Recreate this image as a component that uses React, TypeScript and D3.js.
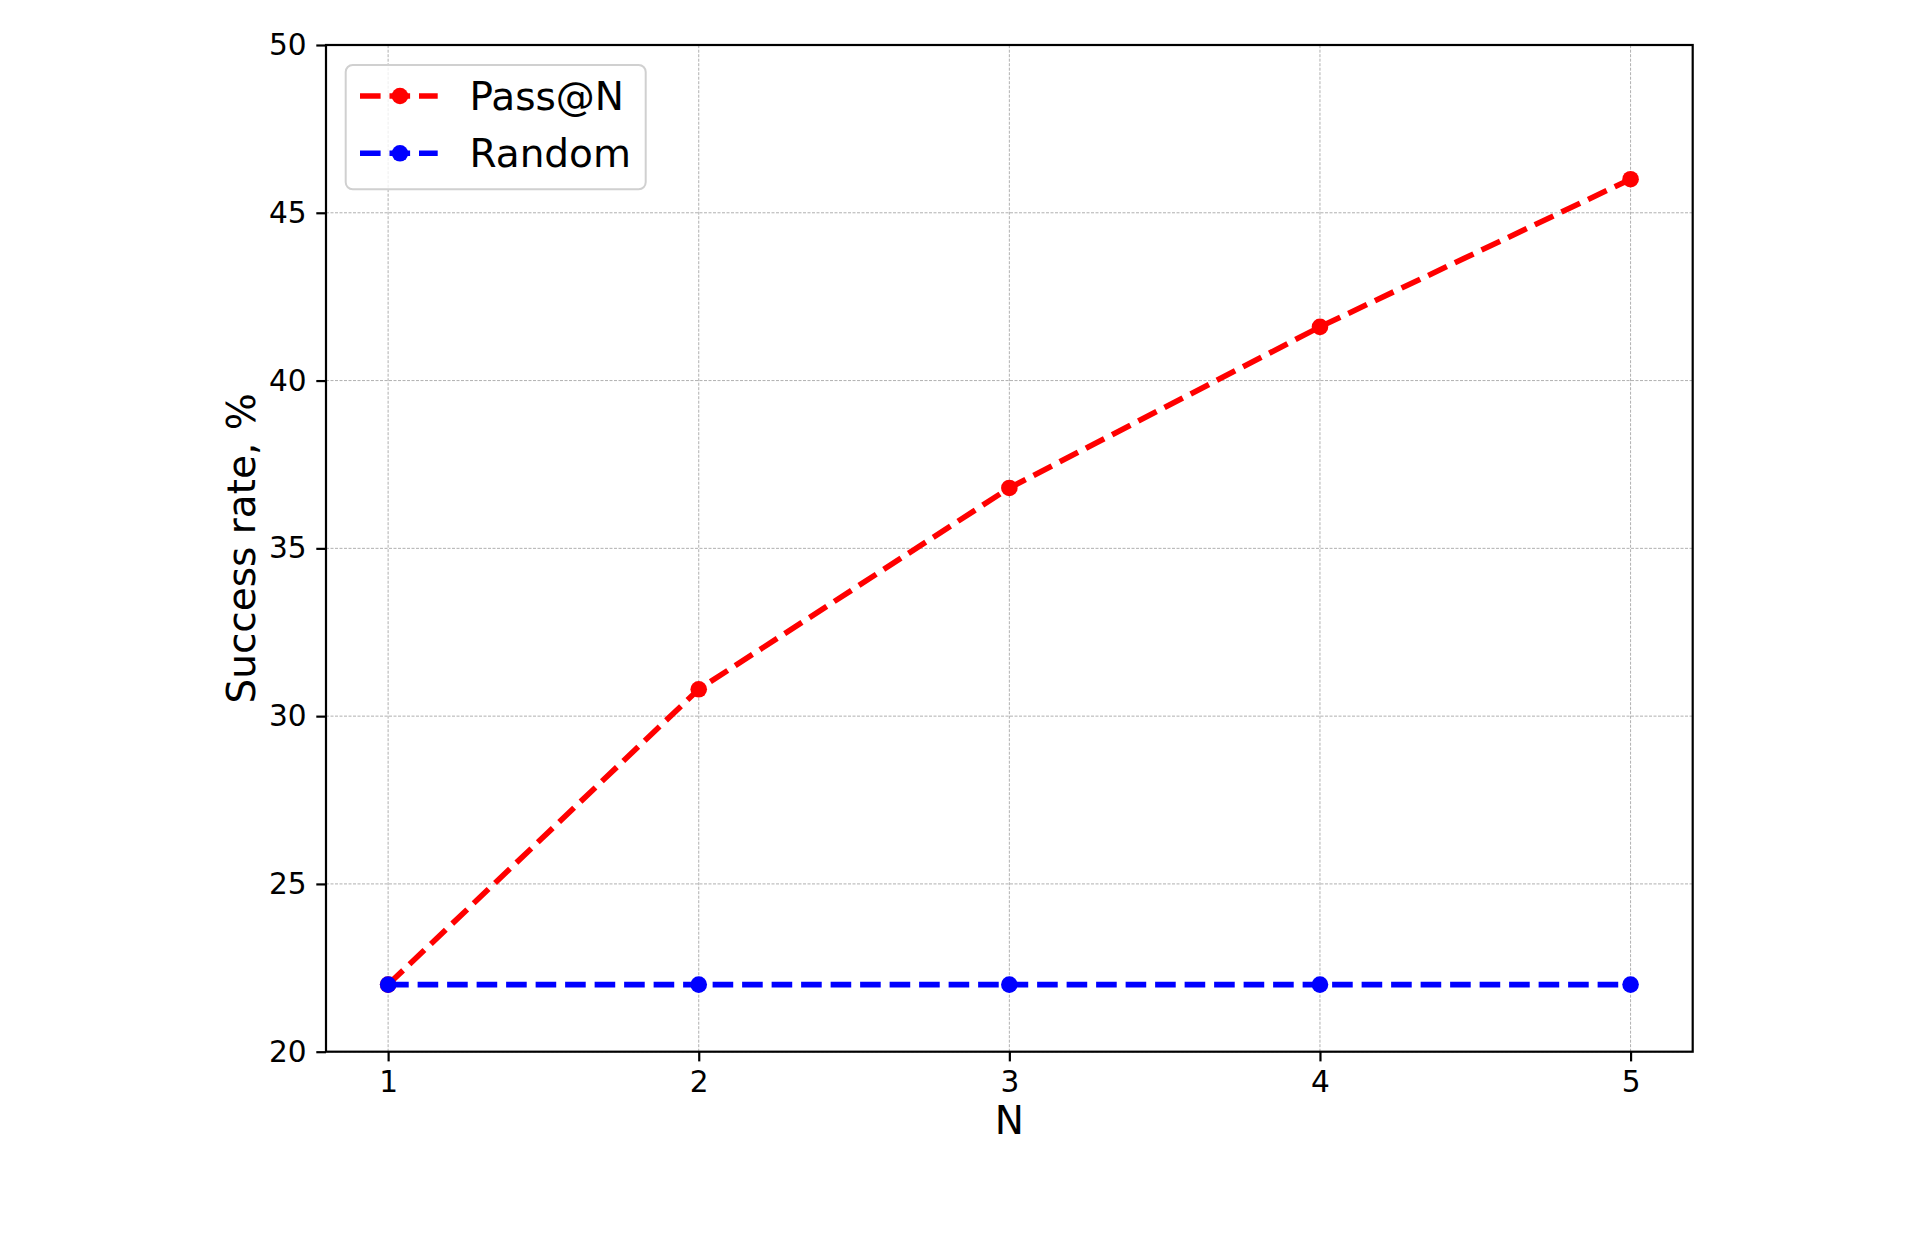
import React, { useEffect, useRef } from 'react';
import * as d3 from 'd3';

// Chart data
const nValues = [1, 2, 3, 4, 5];
const passAtN = [22, 30.8, 36.8, 41.6, 46];
const randomRate = [22, 22, 22, 22, 22];
const yTicks = [20, 25, 30, 35, 40, 45, 50];
const xTicks = [1, 2, 3, 4, 5];

const seriesList = [
  { name: 'Pass@N', values: passAtN, color: '#ff0000' },
  { name: 'Random', values: randomRate, color: '#0000ff' },
];

const App = () => {
  const chartRef = useRef(null);

  useEffect(() => {
    if (!chartRef.current) return;
    d3.select(chartRef.current).selectAll('*').remove();

    const width = 1928;
    const height = 1256;
    const margin = { left: 326, right: 1928 - 1692.7, top: 45, bottom: 1256 - 1051.7 };
    const font = 'DejaVu Sans, sans-serif';

    const svg = d3.select(chartRef.current)
      .append('svg')
      .attr('width', width)
      .attr('height', height)
      .style('display', 'block')
      .style('background', 'white');

    const x = d3.scaleLinear()
      .domain([0.8, 5.2])
      .range([margin.left, width - margin.right]);

    const y = d3.scaleLinear()
      .domain([20, 50])
      .range([height - margin.bottom, margin.top]);

    // Grid lines
    const grid = svg.append('g');
    xTicks.forEach(t => {
      grid.append('line')
        .attr('x1', x(t)).attr('x2', x(t))
        .attr('y1', y(20)).attr('y2', y(50))
        .style('stroke', '#b0b0b0')
        .style('stroke-width', 1)
        .style('stroke-dasharray', '3,1.5');
    });
    yTicks.forEach(t => {
      grid.append('line')
        .attr('x1', x(0.8)).attr('x2', x(5.2))
        .attr('y1', y(t)).attr('y2', y(t))
        .style('stroke', '#b0b0b0')
        .style('stroke-width', 1)
        .style('stroke-dasharray', '3,1.5');
    });

    // Series
    const line = d3.line<number>()
      .x((d, i) => x(nValues[i]))
      .y(d => y(d));

    seriesList.forEach(s => {
      svg.append('path')
        .datum(s.values)
        .attr('d', line)
        .style('fill', 'none')
        .style('stroke', s.color)
        .style('stroke-width', 5.6)
        .style('stroke-dasharray', '20.6,8.9');

      svg.selectAll(null)
        .data(s.values)
        .enter()
        .append('circle')
        .attr('cx', (d, i) => x(nValues[i]))
        .attr('cy', d => y(d))
        .attr('r', 8.3)
        .style('fill', s.color);
    });

    // Axes
    const xAxis = d3.axisBottom(x).tickValues(xTicks).tickSize(9.7).tickPadding(9.7).tickFormat(d3.format('d'));
    const yAxis = d3.axisLeft(y).tickValues(yTicks).tickSize(9.7).tickPadding(9.7).tickFormat(d3.format('d'));

    const gx = svg.append('g')
      .attr('transform', `translate(0, ${height - margin.bottom})`)
      .call(xAxis);
    const gy = svg.append('g')
      .attr('transform', `translate(${margin.left}, 0)`)
      .call(yAxis);

    [gx, gy].forEach(g => {
      g.select('.domain').remove();
      g.selectAll('line').style('stroke', 'black').style('stroke-width', 2.2);
      g.selectAll('text')
        .style('font-family', font)
        .style('font-size', '29.6px')
        .style('fill', 'black');
    });

    // Frame
    svg.append('rect')
      .attr('x', margin.left)
      .attr('y', margin.top)
      .attr('width', width - margin.left - margin.right)
      .attr('height', height - margin.top - margin.bottom)
      .style('fill', 'none')
      .style('stroke', 'black')
      .style('stroke-width', 2.2);

    // Axis labels
    svg.append('text')
      .attr('x', (margin.left + width - margin.right) / 2)
      .attr('y', 1134)
      .attr('text-anchor', 'middle')
      .style('font-family', font)
      .style('font-size', '39px')
      .text('N');

    svg.append('text')
      .attr('transform', `translate(255, ${(margin.top + height - margin.bottom) / 2}) rotate(-90)`)
      .attr('text-anchor', 'middle')
      .style('font-family', font)
      .style('font-size', '39px')
      .text('Success rate, %');

    // Legend
    const legend = svg.append('g');
    legend.append('rect')
      .attr('x', 345.7)
      .attr('y', 65)
      .attr('width', 300)
      .attr('height', 124.3)
      .attr('rx', 7)
      .style('fill', 'rgba(255,255,255,0.8)')
      .style('stroke', '#d0d0d0')
      .style('stroke-width', 2);

    const legendRows = [96, 153.3];
    seriesList.forEach((s, i) => {
      const ly = legendRows[i];
      legend.append('line')
        .attr('x1', 360).attr('x2', 437.7)
        .attr('y1', ly).attr('y2', ly)
        .style('stroke', s.color)
        .style('stroke-width', 5.6)
        .style('stroke-dasharray', '20.6,8.9');
      legend.append('circle')
        .attr('cx', 400).attr('cy', ly)
        .attr('r', 8.3)
        .style('fill', s.color);
      legend.append('text')
        .attr('x', 469.5)
        .attr('y', ly + 14)
        .style('font-family', font)
        .style('font-size', '39px')
        .style('fill', 'black')
        .text(s.name);
    });
  }, []);

  return (
    <div style={{ position: 'absolute', left: 0, top: 0 }}>
      <div ref={chartRef} style={{ width: '1928px', height: '1256px' }} />
    </div>
  );
};

export default App;
